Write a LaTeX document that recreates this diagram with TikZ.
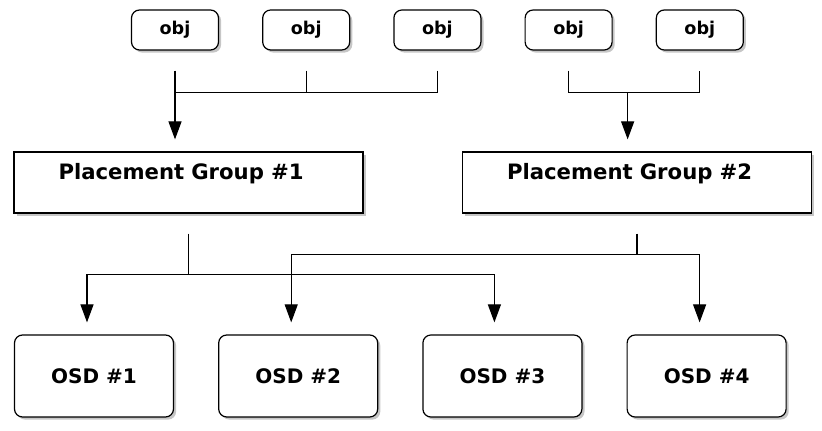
\documentclass[tikz,border=0pt]{standalone}
\usepackage{fontspec}
\setmainfont{DejaVu Sans}
\usetikzlibrary{arrows.meta,positioning,shadows,calc}

\begin{document}
\begin{tikzpicture}[
  x=1pt, y=1pt,
  box/.style={draw, line width=0.6pt, fill=white, drop shadow={shadow xshift=1.3pt, shadow yshift=-1.3pt, fill=black!50, opacity=0.45}},
  objbox/.style={box, rounded corners=4pt, minimum width=43.5pt, minimum height=20pt, inner sep=0pt, font=\fontsize{8.8}{10}\selectfont\bfseries},
  pgbox/.style={box, minimum width=174.5pt, minimum height=30.5pt, inner sep=0pt, text width=130pt, align=left, text depth=11pt, font=\fontsize{10.6}{12}\selectfont\bfseries},
  osdbox/.style={box, rounded corners=4pt, minimum width=79.5pt, minimum height=41pt, inner sep=0pt, font=\fontsize{10}{12}\selectfont\bfseries},
  wire/.style={line width=0.6pt},
  arr/.style={wire, -{Triangle[length=9pt, width=6.5pt]}},
  node distance=21.5pt
]
\useasboundingbox (0,0) rectangle (411,-215.5);

% objects
\node[objbox] (obj1) at (87.5,-15) {obj};
\node[objbox, right=of obj1] (obj2) {obj};
\node[objbox, right=of obj2] (obj3) {obj};
\node[objbox, right=of obj3] (obj4) {obj};
\node[objbox, right=of obj4] (obj5) {obj};

% placement groups
\node[pgbox] (pg1) at (94.25,-91.25) {Placement Group \#1};
\node[pgbox] (pg2) at (318.5,-91.25) {Placement Group \#2};

% osds
\node[osdbox] (osd1) at (47,-188) {OSD \#1};
\node[osdbox, right=22pt of osd1] (osd2) {OSD \#2};
\node[osdbox, right=22pt of osd2] (osd3) {OSD \#3};
\node[osdbox, right=22pt of osd3] (osd4) {OSD \#4};

% obj -> pg
\draw[wire] ([yshift=-10pt]obj3.south) |- ([yshift=-21pt]obj1.south);
\draw[wire] ([yshift=-10pt]obj2.south) -- ++(0,-11);
\draw[arr] ([yshift=-10pt]obj1.south) -- ([yshift=6pt]pg1.north -| obj1);
\draw[wire] ([yshift=-10pt]obj4.south) |- ([yshift=-21pt]obj5.south) -- ([yshift=-10pt]obj5.south);
\coordinate (mid2) at ($(obj4.south)!0.45!(obj5.south)$);
\draw[arr] ([yshift=-21pt]mid2) -- ([yshift=6pt]pg2.north -| mid2);

% pg -> osd
\draw[wire] ([yshift=-10pt]pg1.south) -- ++(0,-20.5) coordinate (bus1);
\draw[arr] (bus1) -| ([xshift=-3.5pt, yshift=6pt]osd1.north);
\draw[arr] (bus1) -| ([xshift=-4pt, yshift=6pt]osd3.north);
\draw[wire] ([yshift=-10pt]pg2.south) -- ++(0,-10.5) coordinate (bus2);
\draw[arr] (bus2) -| ([xshift=-3.5pt, yshift=6pt]osd2.north);
\draw[arr] (bus2) -| ([xshift=-3.5pt, yshift=6pt]osd4.north);

\end{tikzpicture}
\end{document}
